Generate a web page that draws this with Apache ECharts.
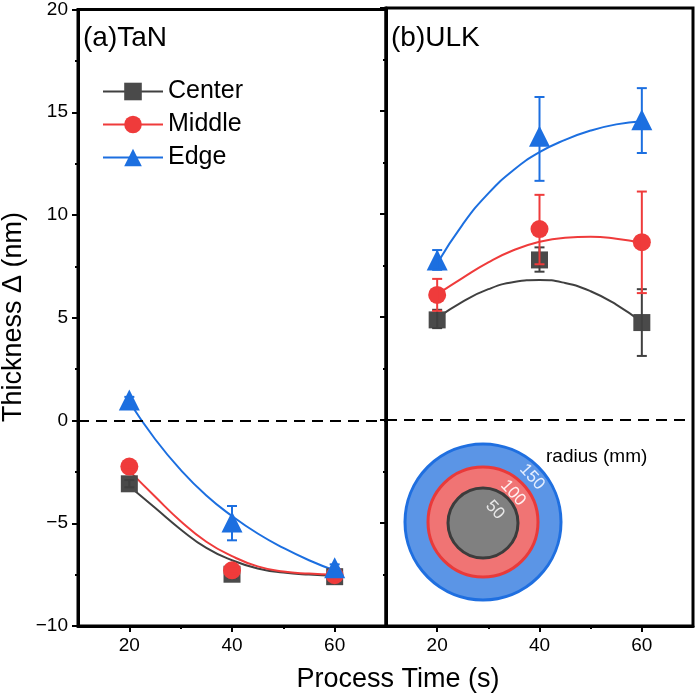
<!DOCTYPE html>
<html>
<head>
<meta charset="utf-8">
<script src="https://cdn.jsdelivr.net/npm/echarts@6/dist/echarts.min.js"></script>
<style>
  html, body { margin: 0; padding: 0; background: #fff; }
  #chart { width: 697px; height: 698px; }
</style>
</head>
<body>
<div id="chart"></div>
<script>
// ticks
const xTicks = [20, 40, 60];
const xMinorTicks = [30, 50];
const times = [20, 40, 60];
const fitX = [20, 25, 30, 35, 40, 45, 50, 55, 60];

// (a) TaN : measured values, error bars [low, high], fit curves
const tanCenter = [-3.08, -7.48, -7.6];
const tanCenterErr = [[-3.25, -2.9], [-7.65, -7.3], [-7.75, -7.45]];
const tanCenterFit = [-3.2, -4.25, -5.3, -6.2, -6.8, -7.2, -7.4, -7.5, -7.55];
const tanMiddle = [-2.24, -7.29, -7.53];
const tanMiddleErr = [[-2.4, -2.1], [-7.45, -7.1], [-7.8, -7.2]];
const tanMiddleFit = [-2.45, -3.7, -4.9, -5.9, -6.6, -7.1, -7.35, -7.45, -7.5];
const tanEdge = [1.0, -4.94, -7.17];
const tanEdgeErr = [[0.85, 1.15], [-5.83, -4.16], [-7.3, -7.0]];
const tanEdgeFit = [0.9, -0.9, -2.4, -3.65, -4.65, -5.5, -6.2, -6.8, -7.3];

// (b) ULK
const ulkCenter = [4.86, 7.77, 4.73];
const ulkCenterErr = [[4.46, 5.35], [7.2, 8.38], [3.11, 6.35]];
const ulkCenterFit = [4.95, 5.75, 6.35, 6.7, 6.8, 6.65, 6.25, 5.6, 4.75];
const ulkMiddle = [6.07, 9.27, 8.63];
const ulkMiddleErr = [[5.3, 6.85], [7.56, 10.93], [6.16, 11.09]];
const ulkMiddleFit = [6.1, 6.9, 7.65, 8.25, 8.65, 8.85, 8.9, 8.8, 8.6];
const ulkEdge = [7.77, 13.77, 14.58];
const ulkEdgeErr = [[7.29, 8.25], [11.61, 15.68], [12.96, 16.11]];
const ulkEdgeFit = [7.6, 9.5, 11.0, 12.15, 13.0, 13.6, 14.05, 14.35, 14.5];

const groups = [
  { name: 'Center', symbol: 'rect', size: 17, color: '#4a4a4a', line: '#404040' },
  { name: 'Middle', symbol: 'circle', size: 18, color: '#ef3b3b', line: '#ef3b3b' },
  { name: 'Edge', symbol: 'triangle', size: 21, color: '#1c6fe0', line: '#1c6fe0' }
];
const panels = [
  { x: 0, y: 0, sets: [[tanCenter, tanCenterErr, tanCenterFit], [tanMiddle, tanMiddleErr, tanMiddleFit], [tanEdge, tanEdgeErr, tanEdgeFit]] },
  { x: 2, y: 1, sets: [[ulkCenter, ulkCenterErr, ulkCenterFit], [ulkMiddle, ulkMiddleErr, ulkMiddleFit], [ulkEdge, ulkEdgeErr, ulkEdgeFit]] }
];

const font = 'Liberation Sans, Arial, sans-serif';

function errRenderer(color) {
  return function (params, api) {
    const x = api.value(0);
    const lo = api.coord([x, api.value(1)]);
    const hi = api.coord([x, api.value(2)]);
    const w = 5;
    const style = { stroke: color, lineWidth: 2 };
    return {
      type: 'group',
      children: [
        { type: 'line', shape: { x1: lo[0], y1: lo[1], x2: hi[0], y2: hi[1] }, style: style },
        { type: 'line', shape: { x1: lo[0] - w, y1: lo[1], x2: lo[0] + w, y2: lo[1] }, style: style },
        { type: 'line', shape: { x1: hi[0] - w, y1: hi[1], x2: hi[0] + w, y2: hi[1] }, style: style }
      ]
    };
  };
}

const series = [];
panels.forEach(function (p) {
  groups.forEach(function (g, gi) {
    const s = p.sets[gi];
    const line = {
      name: g.name, type: 'line', xAxisIndex: p.x, yAxisIndex: p.y,
      data: fitX.map(function (x, i) { return [x, s[2][i]]; }),
      smooth: true, showSymbol: false, symbol: g.symbol,
      lineStyle: { color: g.line, width: 2 }, itemStyle: { color: g.color },
      z: 2
    };
    if (gi === 0) {
      line.markLine = {
        silent: true, symbol: 'none', label: { show: false },
        lineStyle: { color: '#000', type: [11, 7], width: 2 },
        data: [{ yAxis: 0 }]
      };
    }
    series.push(line);
    series.push({
      name: g.name, type: 'scatter', xAxisIndex: p.x, yAxisIndex: p.y,
      data: times.map(function (x, i) { return [x, s[0][i]]; }),
      symbol: g.symbol, symbolSize: g.size, itemStyle: { color: g.color, opacity: 1 },
      z: 3 + gi * 2
    });
    series.push({
      type: 'custom', xAxisIndex: p.x, yAxisIndex: p.y,
      data: times.map(function (x, i) { return [x, s[1][i][0], s[1][i][1]]; }),
      renderItem: errRenderer(g.line),
      z: 4 + gi * 2
    });
  });
});

function xMain(grid) {
  return {
    type: 'value', gridIndex: grid, position: 'bottom', min: 10, max: 70,
    axisLine: { onZero: false, lineStyle: { color: '#000', width: 3 } },
    axisTick: { customValues: xTicks, length: 6, lineStyle: { color: '#000', width: 2 } },
    axisLabel: { customValues: xTicks, fontSize: 19, color: '#000', margin: 10, fontFamily: font },
    splitLine: { show: false }
  };
}
function xMinor(grid) {
  return {
    type: 'value', gridIndex: grid, position: 'bottom', min: 10, max: 70,
    axisLine: { show: false, onZero: false },
    axisTick: { customValues: xMinorTicks, length: 3, lineStyle: { color: '#000', width: 2 } },
    axisLabel: { show: false }, splitLine: { show: false }
  };
}
function yAx(grid, labels) {
  return {
    type: 'value', gridIndex: grid, min: -10, max: 20, interval: 5,
    axisLine: { show: true, onZero: false, lineStyle: { color: '#000', width: 3 } },
    axisTick: { show: true, length: 6, lineStyle: { color: '#000', width: 2 } },
    minorTick: { show: true, splitNumber: 2, length: 3, lineStyle: { color: '#000', width: 2 } },
    axisLabel: {
      show: labels, fontSize: 19, color: '#000', margin: 10, fontFamily: font,
      formatter: function (v) { return String(v).replace('-', '\u2212'); }
    },
    splitLine: { show: false }
  };
}

const option = {
  animation: false,
  backgroundColor: '#fff',
  grid: [
    { left: 78, top: 8, width: 308, height: 618, show: true, borderColor: '#000', borderWidth: 3, backgroundColor: '#fff' },
    { left: 386, top: 8, width: 307, height: 618, show: true, borderColor: '#000', borderWidth: 3, backgroundColor: '#fff' }
  ],
  xAxis: [xMain(0), xMinor(0), xMain(1), xMinor(1)],
  yAxis: [yAx(0, true), yAx(1, false)],
  legend: {
    data: ['Center', 'Middle', 'Edge'],
    orient: 'vertical', left: 97, top: 74,
    itemWidth: 60, itemHeight: 22, itemGap: 8,
    textStyle: { fontSize: 25, color: '#000', fontFamily: font }
  },
  graphic: [
    { type: 'text', left: 83, top: 24, style: { text: '(a)TaN', fontSize: 28, fill: '#000', fontFamily: font } },
    { type: 'text', left: 391, top: 24, style: { text: '(b)ULK', fontSize: 28, fill: '#000', fontFamily: font } },
    { type: 'text', x: 398, y: 680, style: { text: 'Process Time (s)', fontSize: 27, fill: '#000', fontFamily: font, align: 'center', verticalAlign: 'middle' } },
    { type: 'text', x: 14, y: 317, rotation: Math.PI / 2, style: { text: 'Thickness \u0394 (nm)', fontSize: 27, fill: '#000', fontFamily: font, align: 'center', verticalAlign: 'middle' } },
    // wafer inset
    { type: 'circle', shape: { cx: 483, cy: 522, r: 78 }, style: { fill: '#5b95e6', stroke: '#1f6fe0', lineWidth: 3 }, z: 20 },
    { type: 'circle', shape: { cx: 483, cy: 522, r: 55 }, style: { fill: '#f07474', stroke: '#e93a3a', lineWidth: 3 }, z: 21 },
    { type: 'circle', shape: { cx: 483, cy: 523, r: 35 }, style: { fill: '#808080', stroke: '#3c3c3c', lineWidth: 3 }, z: 22 },
    { type: 'text', x: 532, y: 477, rotation: -0.82, z: 23, style: { text: '150', fontSize: 17, fill: '#e6efff', fontFamily: font, align: 'center', verticalAlign: 'middle' } },
    { type: 'text', x: 513, y: 493, rotation: -0.82, z: 23, style: { text: '100', fontSize: 17, fill: '#fff0f0', fontFamily: font, align: 'center', verticalAlign: 'middle' } },
    { type: 'text', x: 495, y: 510, rotation: -0.82, z: 23, style: { text: '50', fontSize: 17, fill: '#e8e8e8', fontFamily: font, align: 'center', verticalAlign: 'middle' } },
    { type: 'text', left: 546, top: 447, z: 23, style: { text: 'radius (mm)', fontSize: 19, fill: '#000', fontFamily: font } }
  ],
  series: series
};

const chart = echarts.init(document.getElementById('chart'));
chart.setOption(option);
</script>
</body>
</html>
